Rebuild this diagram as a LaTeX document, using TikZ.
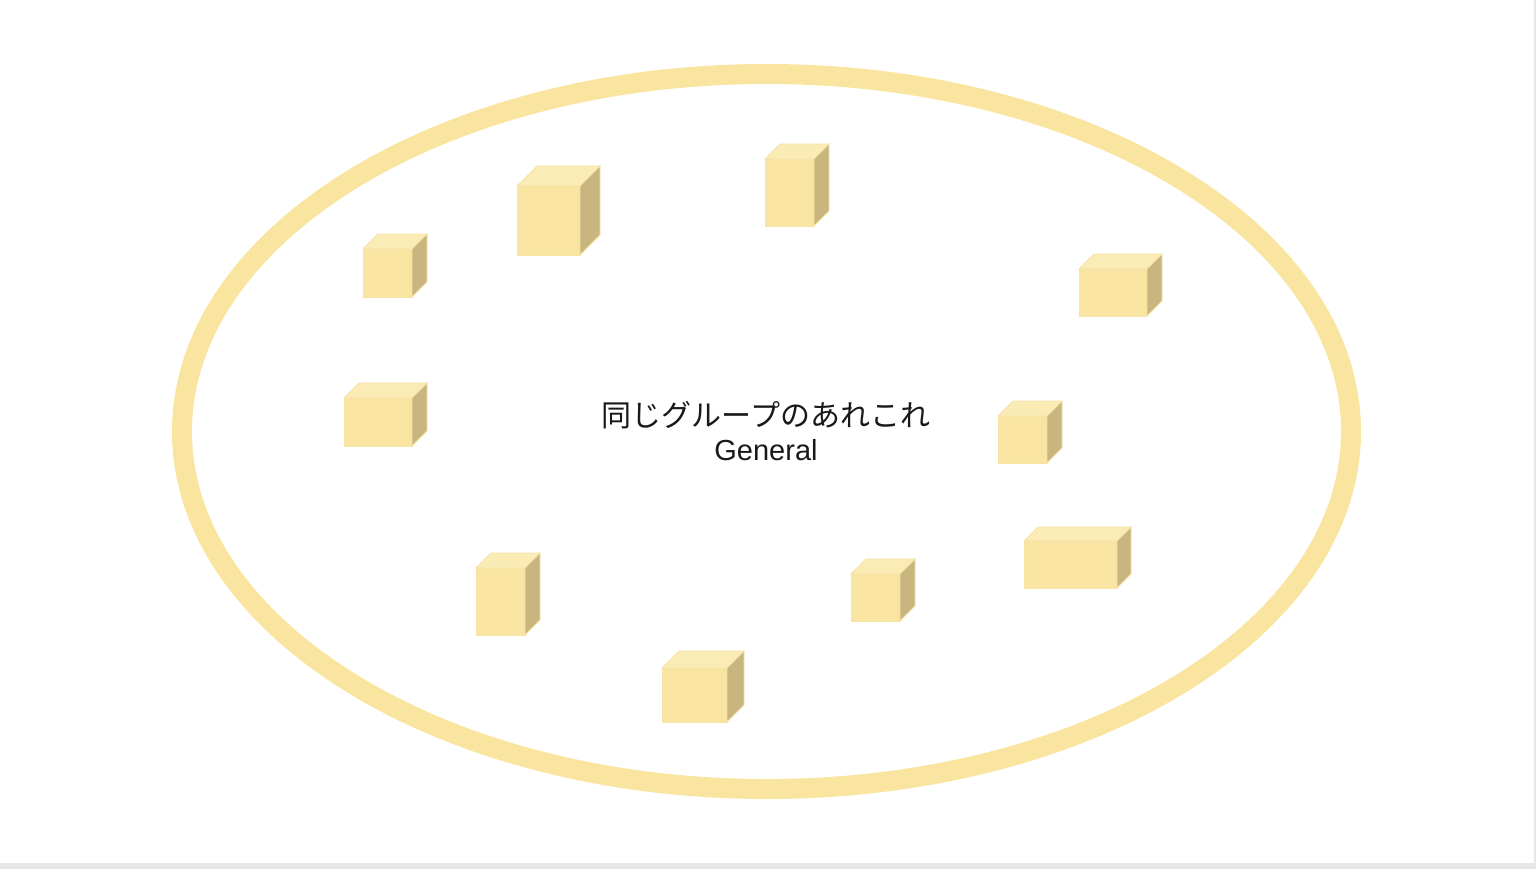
\documentclass[tikz,border=0pt]{standalone}
\usepackage{fontspec}
\setmainfont{Liberation Sans}
\newfontfamily\jpfont{Noto Sans CJK JP}
\usetikzlibrary{positioning}
\definecolor{ringcol}{HTML}{FAE5A0}
\definecolor{frontcol}{HTML}{F9E4A1}
\definecolor{topcol}{HTML}{FBEBB5}
\definecolor{sidecol}{HTML}{C9B67F}
\definecolor{edgecol}{HTML}{F6E3A6}
\tikzstyle{ring} = [draw=ringcol, line width=20pt]
\tikzstyle{front} = [fill=frontcol, draw=edgecol, line width=0.8pt]
\tikzstyle{topface} = [fill=topcol, draw=edgecol, line width=0.8pt]
\tikzstyle{sideface} = [fill=sidecol, draw=edgecol, line width=0.8pt]
\tikzstyle{label} = [align=center, text=black!90, inner sep=0pt]
% \cubebox{x}{y}{width}{height}{depth}, (x,y) = top left of front face
\newcommand{\cubebox}[5]{
  \draw[front] (#1,#2) rectangle (#1+#3,#2+#4);
  \draw[topface] (#1,#2) -- (#1+#5,#2-#5) -- (#1+#3+#5,#2-#5) -- (#1+#3,#2) -- cycle;
  \draw[sideface] (#1+#3,#2) -- (#1+#3+#5,#2-#5) -- (#1+#3+#5,#2+#4-#5) -- (#1+#3,#2+#4) -- cycle;
}

\begin{document}
\begin{tikzpicture}[x=1pt, y=-1pt]
  \useasboundingbox (0,0) rectangle (1536,869);
  % page edge
  \fill[black!9] (1534,0) rectangle (1536,869);
  \fill[black!9] (0,863) rectangle (1536,869);

  \draw[ring] (766.5,431.5) ellipse [x radius=584.5pt, y radius=357.5pt];

  \cubebox{363}{249}{49}{48}{15}
  \cubebox{517}{186}{63}{69}{20}
  \cubebox{765}{159}{49}{67}{15}
  \cubebox{1079}{269}{68}{47}{15}
  \cubebox{344}{398}{68}{48}{15}
  \cubebox{998}{416}{49}{47}{15}
  \cubebox{1024}{541}{93}{47}{14}
  \cubebox{476}{568}{49}{67}{15}
  \cubebox{851}{574}{49}{47}{15}
  \cubebox{662}{668}{65}{54}{17}

  \node[label] (title) at (766,431)
    {{\jpfont\fontsize{30}{36}\selectfont 同じグループのあれこれ}\\[9pt]
     {\fontsize{29}{35}\selectfont General}};
\end{tikzpicture}
\end{document}
